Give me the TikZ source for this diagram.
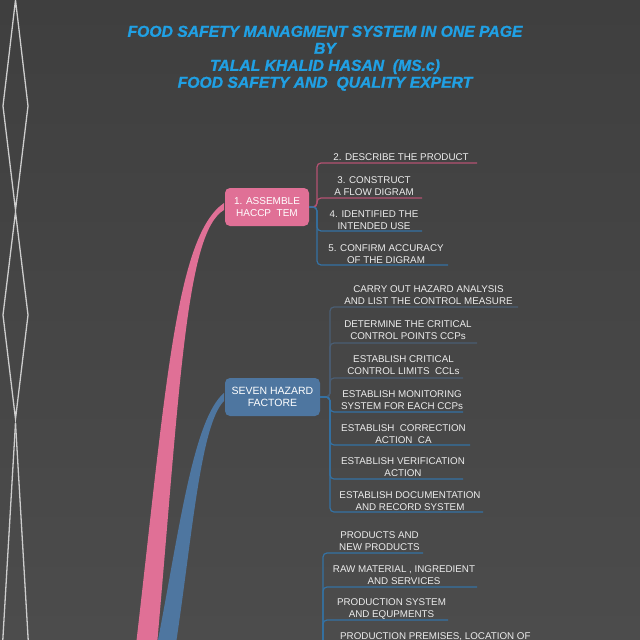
\documentclass[tikz,border=0pt]{standalone}
\usepackage{fontspec}
\setmainfont{Liberation Sans}
\newfontfamily\titlefont[FakeBold=1.3]{Liberation Sans}
\definecolor{bgtop}{RGB}{63,63,63}
\definecolor{bgbot}{RGB}{76,76,76}
\definecolor{titleblue}{RGB}{32,160,228}
\definecolor{mpink}{RGB}{224,112,150}
\definecolor{mblue}{RGB}{78,118,160}
\definecolor{lpink}{RGB}{180,82,114}
\definecolor{lblue}{RGB}{52,114,164}
\definecolor{lgrayblue}{RGB}{74,94,116}
\definecolor{txt}{RGB}{236,236,236}
\definecolor{diamc}{RGB}{205,205,205}
\begin{document}
\begin{tikzpicture}[x=1pt,y=-1pt,
  titletext/.style={text=titleblue, font=\titlefont\fontsize{15.7}{17}\selectfont\bfseries\itshape, align=center, inner sep=0pt},
  topic/.style={rounded corners=5pt, text=white, align=center, minimum height=38pt, inner sep=0pt},
  subtext/.style={text=txt, align=center, font=\fontsize{9.8}{12}\selectfont, inner sep=0pt},
  lnk/.style={line width=1.2pt, rounded corners=4pt},
  diamline/.style={draw=diamc, line width=1.3pt, line join=miter}]
\useasboundingbox (0,0) rectangle (640,640);
\shade[top color=bgtop, bottom color=bgbot] (0,0) rectangle (640,640);
\clip (0,0) rectangle (640,640);

% left decoration
\draw[diamline] (15.5,0) -- (3,106) -- (15.5,210) -- (28,106) -- cycle;
\draw[diamline] (15.5,212) -- (3,315) -- (15.5,419) -- (28,315) -- cycle;
\draw[diamline] (15.5,423) -- (2.5,645);
\draw[diamline] (15.5,423) -- (28.5,645);

% title
\node[titletext] (title) at (325,58.3) {FOOD SAFETY MANAGMENT SYSTEM IN ONE PAGE\\BY\\TALAL KHALID HASAN~ (MS.c)\\FOOD SAFETY AND~ QUALITY EXPERT};

% main branches
\fill[mpink] (136,645) .. controls (166,385) and (176,236) .. (224,203) -- (224,210) .. controls (186,232) and (180,385) .. (157,645) -- cycle;
\fill[mblue] (156,650) .. controls (178,540) and (192,420) .. (224,393) -- (224,401) .. controls (200,425) and (192,540) .. (175,650) -- cycle;

% topic nodes
\node[topic, fill=mpink, minimum width=84pt, font=\fontsize{10}{11.5}\selectfont] (a1) at (267,207) {1. ASSEMBLE\\HACCP~ TEM};
\node[topic, fill=mblue, minimum width=95pt, font=\fontsize{10.5}{12}\selectfont] (a2) at (272.5,397) {SEVEN HAZARD\\FACTORE};

% group 1
\coordinate (J1) at (317,207);
\coordinate (e12) at (477,163);
\coordinate (e13) at (422,198);
\coordinate (e14) at (422,231);
\coordinate (e15) at (448,265);
\draw[lnk, lpink] (a1.east) -- (J1) |- (e12);
\draw[lnk, lpink] (a1.east) -- (J1) |- (e13);
\draw[lnk, lblue] (a1.east) -- (J1) |- (e14);
\draw[lnk, lblue] (a1.east) -- (J1) |- (e15);
\node[subtext] (t12) at (401,157) {2. DESCRIBE THE PRODUCT};
\node[subtext] (t13) at (374,186) {3. CONSTRUCT\\A FLOW DIGRAM};
\node[subtext] (t14) at (374,220.5) {4. IDENTIFIED THE\\INTENDED USE};
\node[subtext] (t15) at (386,254.5) {5. CONFIRM ACCURACY\\OF THE DIGRAM};

% group 2
\coordinate (J2) at (330,397);
\coordinate (e21) at (518,307);
\coordinate (e22) at (477,343);
\coordinate (e23) at (463,378);
\coordinate (e24) at (463,412);
\coordinate (e25) at (470,445);
\coordinate (e26) at (463,479);
\coordinate (e27) at (483,512);
\draw[lnk, lgrayblue] (a2.east) -- (J2) |- (e21);
\draw[lnk, lgrayblue] (a2.east) -- (J2) |- (e22);
\draw[lnk, lgrayblue] (a2.east) -- (J2) |- (e23);
\draw[lnk, lblue] (a2.east) -- (J2) |- (e24);
\draw[lnk, lblue] (a2.east) -- (J2) |- (e25);
\draw[lnk, lblue] (a2.east) -- (J2) |- (e26);
\draw[lnk, lblue] (a2.east) -- (J2) |- (e27);
\node[subtext] (t21) at (428.5,295.5) {CARRY OUT HAZARD ANALYSIS\\AND LIST THE CONTROL MEASURE};
\node[subtext] (t22) at (408,330.5) {DETERMINE THE CRITICAL\\CONTROL POINTS CCPs};
\node[subtext] (t23) at (403.5,365.5) {ESTABLISH CRITICAL\\CONTROL LIMITS~ CCLs};
\node[subtext] (t24) at (402,400.5) {ESTABLISH MONITORING\\SYSTEM FOR EACH CCPs};
\node[subtext] (t25) at (403.5,434) {ESTABLISH~ CORRECTION\\ACTION~ CA};
\node[subtext] (t26) at (403,467.5) {ESTABLISH VERIFICATION\\ACTION};
\node[subtext] (t27) at (410,501.5) {ESTABLISH DOCUMENTATION\\AND RECORD SYSTEM};

% group 3
\coordinate (J3) at (323,720);
\coordinate (e31) at (423,553);
\coordinate (e32) at (477,587);
\coordinate (e33) at (448,620);
\draw[lnk, lblue] (J3) |- (e31);
\draw[lnk, lblue] (J3) |- (e32);
\draw[lnk, lblue] (J3) |- (e33);
\node[subtext] (t31) at (379.5,541.5) {PRODUCTS AND\\NEW PRODUCTS};
\node[subtext] (t32) at (404,575.5) {RAW MATERIAL , INGREDIENT\\AND SERVICES};
\node[subtext] (t33) at (391.5,609) {PRODUCTION SYSTEM\\AND EQUPMENTS};
\node[subtext, anchor=north west] (t34) at (340,632.3) {PRODUCTION PREMISES, LOCATION OF};
\end{tikzpicture}
\end{document}
